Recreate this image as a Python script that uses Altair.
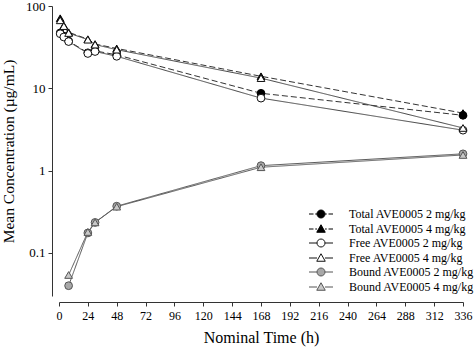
import altair as alt
import pandas as pd

series_names = [
    "Total AVE0005 2 mg/kg",
    "Total AVE0005 4 mg/kg",
    "Free AVE0005 2 mg/kg",
    "Free AVE0005 4 mg/kg",
    "Bound AVE0005 2 mg/kg",
    "Bound AVE0005 4 mg/kg",
]
time_tf = [1, 4, 8, 24, 30, 48, 168, 336]
time_bound = [8, 24, 30, 48, 168, 336]
total_2mg = [47, 43, 37.5, 27, 28.5, 25.5, 8.7, 4.7]
total_4mg = [71, 58, 48, 39.5, 34.5, 30.5, 14.0, 5.0]
free_2mg = [46, 42, 37, 26.5, 28, 24.5, 7.6, 3.1]
free_4mg = [67, 57, 47, 39, 34, 29.5, 13.3, 3.3]
bound_2mg = [0.040, 0.175, 0.235, 0.37, 1.15, 1.60]
bound_4mg = [0.054, 0.18, 0.235, 0.365, 1.10, 1.55]

rows = []
for name, times, vals in [
    (series_names[0], time_tf, total_2mg),
    (series_names[1], time_tf, total_4mg),
    (series_names[2], time_tf, free_2mg),
    (series_names[3], time_tf, free_4mg),
    (series_names[4], time_bound, bound_2mg),
    (series_names[5], time_bound, bound_4mg),
]:
    for t, v in zip(times, vals):
        rows.append({"time": t, "conc": v, "series": name})
df = pd.DataFrame(rows)

FONT = "Liberation Serif"
fill_range = ["#000000", "#000000", "#ffffff", "#ffffff", "#a8a8a8", "#c8c8c8"]
stroke_range = ["#000000", "#000000", "#111111", "#111111", "#555555", "#555555"]
line_range = ["#333333", "#333333", "#444444", "#444444", "#555555", "#555555"]
dash_range = [[6, 3], [6, 3], [1, 0], [1, 0], [1, 0], [1, 0]]

circ = "M-0.8,0A0.8,0.8,0,1,0,0.8,0A0.8,0.8,0,1,0,-0.8,0Z"
tri = "M0,-0.85L0.85,0.65L-0.85,0.65Z"
solid = "M-2.4,0L-0.8,0M0.8,0L2.4,0"
dashed = "M-2.4,0L-1.5,0M-1.15,0L-0.8,0M0.8,0L1.15,0M1.5,0L2.4,0"
legend_shapes = [dashed + circ, dashed + tri, solid + circ, solid + tri, solid + circ, solid + tri]

x_enc = alt.X(
    "time:Q",
    scale=alt.Scale(domain=[0, 336], nice=False),
    axis=alt.Axis(
        values=list(range(0, 337, 24)),
        title="Nominal Time (h)",
        offset=6,
        grid=False,
        tickSize=4,
        labelPadding=4,
        labelFontSize=12,
        labelOverlap=False,
        labelFlush=False,
        titleFontSize=16,
        titlePadding=8,
    ),
)
y_enc = alt.Y(
    "conc:Q",
    scale=alt.Scale(type="log", domain=[0.03, 100], nice=False),
    axis=alt.Axis(
        values=[0.1, 1, 10, 100],
        format="~g",
        title="Mean Concentration (\u00b5g/mL)",
        offset=7,
        grid=False,
        tickSize=4,
        labelPadding=3,
        labelFontSize=13,
        labelOverlap=False,
        labelFlush=False,
        titleFontSize=15.5,
        titlePadding=9,
    ),
)

lines = alt.Chart(df).mark_line(strokeWidth=1).encode(
    x=x_enc,
    y=y_enc,
    detail="series:N",
    stroke=alt.Stroke("series:N", scale=alt.Scale(domain=series_names, range=line_range), legend=None),
    strokeDash=alt.StrokeDash("series:N", scale=alt.Scale(domain=series_names, range=dash_range), legend=None),
)

points = alt.Chart(df).mark_point(filled=True, size=60, strokeWidth=1, opacity=1).encode(
    x=x_enc,
    y=y_enc,
    shape=alt.Shape("series:N", scale=alt.Scale(domain=series_names, range=["circle", "triangle-up"] * 3), legend=None),
    fill=alt.Fill("series:N", scale=alt.Scale(domain=series_names, range=fill_range), legend=None),
    stroke=alt.Stroke("series:N", scale=alt.Scale(domain=series_names, range=stroke_range), legend=None),
)

leg = alt.Legend(
    orient="none",
    legendX=246,
    legendY=202,
    title=None,
    labelFont=FONT,
    labelFontSize=12,
    labelColor="#000000",
    symbolSize=100,
    symbolStrokeWidth=1,
    symbolOffset=10,
    labelOffset=22,
    rowPadding=2,
    padding=0,
)

legend_df = pd.DataFrame({"series": pd.Series([], dtype="object")})
legend_layer = alt.Chart(legend_df).mark_point(filled=True, strokeWidth=1, opacity=1).encode(
    shape=alt.Shape("series:N", scale=alt.Scale(domain=series_names, range=legend_shapes), legend=leg),
    fill=alt.Fill("series:N", scale=alt.Scale(domain=series_names, range=fill_range), legend=leg),
    stroke=alt.Stroke("series:N", scale=alt.Scale(domain=series_names, range=stroke_range), legend=leg),
)

chart = (
    alt.layer(lines, points, legend_layer)
    .resolve_scale(shape="independent", fill="independent", stroke="independent")
    .resolve_legend(shape="independent", fill="independent", stroke="independent")
    .properties(
        width=404,
        height=290,
        autosize=alt.AutoSizeParams(type="none"),
        padding={"left": 59, "top": 6, "right": 11, "bottom": 55},
        background="white",
    )
    .configure_view(stroke=None)
    .configure_axis(
        labelFont=FONT,
        titleFont=FONT,
        titleFontWeight="normal",
        labelColor="#000000",
        titleColor="#000000",
        domainColor="#333333",
        tickColor="#333333",
    )
)

chart.save("out.html", embed_options={"renderer": "svg", "actions": False})
